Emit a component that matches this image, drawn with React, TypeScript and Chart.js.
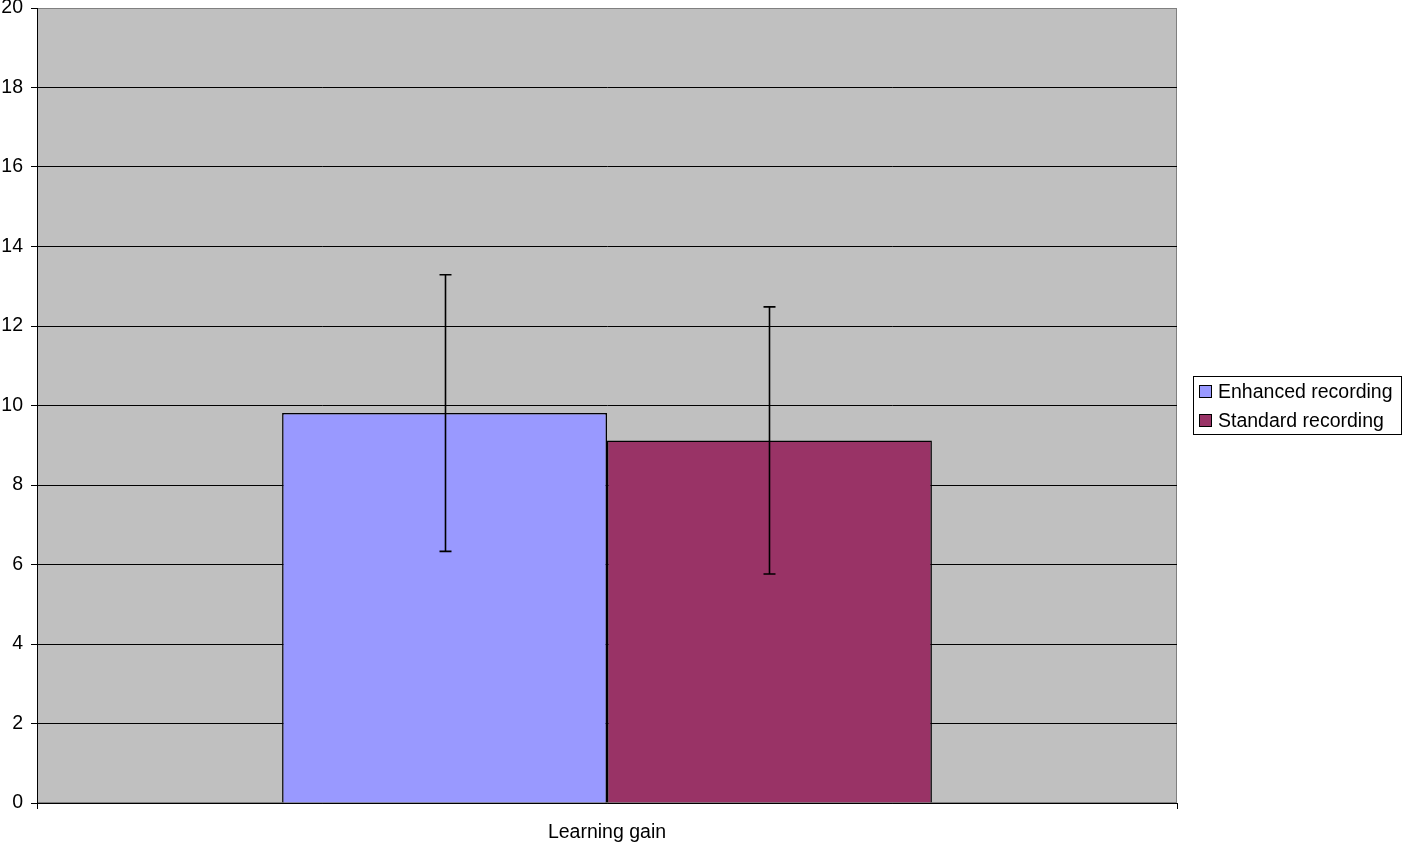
import React, { useEffect, useRef } from "react";
import { Chart, registerables } from "chart.js";

Chart.register(...registerables);

const categories = ["Learning gain"];
const seriesLabels = ["Enhanced recording", "Standard recording"];
const enhancedValues = [9.81];
const standardValues = [9.12];
const enhancedErrors = [3.48];
const standardErrors = [3.36];
const seriesColors = ["#9999FF", "#993366"];
const yMin = 0;
const yMax = 20;
const yStep = 2;

const FONT = "'Liberation Sans', Arial, sans-serif";

const errorsBySeries = [enhancedErrors, standardErrors];

const bgPlugin = {
  id: "plotBg",
  beforeDraw(chart: any) {
    const { ctx, chartArea } = chart;
    ctx.save();
    ctx.fillStyle = "#C0C0C0";
    ctx.fillRect(chartArea.left, chartArea.top, chartArea.right - chartArea.left, chartArea.bottom - chartArea.top);
    ctx.strokeStyle = "#808080";
    ctx.lineWidth = 1;
    ctx.strokeRect(chartArea.left + 0.5, chartArea.top + 0.5, chartArea.right - chartArea.left - 1, chartArea.bottom - chartArea.top - 1);
    ctx.restore();
  },
};

const errorBarPlugin = {
  id: "errorBars",
  afterDatasetsDraw(chart: any) {
    const { ctx } = chart;
    const yScale = chart.scales.y;
    ctx.save();
    ctx.strokeStyle = "#000";
    ctx.lineWidth = 1.6;
    chart.data.datasets.forEach((ds: any, i: number) => {
      const meta = chart.getDatasetMeta(i);
      meta.data.forEach((bar: any, j: number) => {
        const v = ds.data[j];
        const e = errorsBySeries[i][j];
        const x = Math.round(bar.x) + 0.5;
        const yTop = yScale.getPixelForValue(v + e);
        const yBot = yScale.getPixelForValue(v - e);
        const half = 6;
        ctx.beginPath();
        ctx.moveTo(x, yTop);
        ctx.lineTo(x, yBot);
        ctx.moveTo(x - half, yTop);
        ctx.lineTo(x + half, yTop);
        ctx.moveTo(x - half, yBot);
        ctx.lineTo(x + half, yBot);
        ctx.stroke();
      });
    });
    ctx.restore();
  },
};

const legendPlugin = {
  id: "boxLegend",
  afterDraw(chart: any) {
    const { ctx } = chart;
    const left = 1193.5;
    const top = 376.5;
    const w = 208;
    const h = 58;
    ctx.save();
    ctx.fillStyle = "#fff";
    ctx.fillRect(left, top, w, h);
    ctx.strokeStyle = "#000";
    ctx.lineWidth = 1;
    ctx.strokeRect(left, top, w, h);
    ctx.font = `19.5px ${FONT}`;
    ctx.textBaseline = "middle";
    ctx.textAlign = "left";
    chart.data.datasets.forEach((ds: any, i: number) => {
      const cy = 391.5 + i * 29;
      ctx.fillStyle = ds.backgroundColor;
      ctx.fillRect(1199.5, cy - 6, 12, 12);
      ctx.strokeStyle = "#000";
      ctx.strokeRect(1199.5, cy - 6, 12, 12);
      ctx.fillStyle = "#000";
      ctx.fillText(ds.label, 1218, cy + 1);
    });
    ctx.restore();
  },
};

export default function App() {
  const ref = useRef<HTMLCanvasElement | null>(null);
  useEffect(() => {
    if (!ref.current) return;
    const chart = new Chart(ref.current, {
      type: "bar",
      data: {
        labels: categories,
        datasets: [
          {
            label: seriesLabels[0],
            data: enhancedValues,
            backgroundColor: seriesColors[0],
            borderColor: "#000",
            borderWidth: 1.5,
          },
          {
            label: seriesLabels[1],
            data: standardValues,
            backgroundColor: seriesColors[1],
            borderColor: "#000",
            borderWidth: 1.5,
          },
        ],
      },
      options: {
        responsive: false,
        animation: false,
        devicePixelRatio: 1,
        layout: { padding: { top: 8, right: 229, left: 0, bottom: 0 } },
        datasets: { bar: { categoryPercentage: 0.57, barPercentage: 1 } },
        plugins: {
          legend: { display: false },
          tooltip: { enabled: false },
        },
        scales: {
          x: {
            offset: true,
            grid: {
              display: true,
              offset: true,
              drawOnChartArea: false,
              drawTicks: true,
              tickLength: 6,
              color: "#000",
            },
            border: { display: true, color: "#000", width: 1 },
            ticks: {
              color: "#000",
              font: { family: FONT, size: 19.5 },
              padding: 12,
            },
            afterFit(scale: any) {
              scale.height = 41;
              scale.paddingLeft = 0;
              scale.paddingRight = 0;
            },
          },
          y: {
            min: yMin,
            max: yMax,
            ticks: {
              stepSize: yStep,
              color: "#000",
              font: { family: FONT, size: 19.5 },
              padding: 8,
            },
            grid: {
              color: (c: any) => (c.tick && c.tick.value === yMax ? "#808080" : "#000"),
              tickColor: "#000",
              tickLength: 6,
              lineWidth: 1,
            },
            border: { display: true, color: "#000", width: 1 },
            afterFit(scale: any) {
              scale.width = 37;
              scale.paddingTop = 0;
              scale.paddingBottom = 0;
            },
          },
        },
      },
      plugins: [bgPlugin, errorBarPlugin, legendPlugin],
    } as any);
    return () => chart.destroy();
  }, []);
  return (
    <div style={{ position: "fixed", left: 0, top: 0, width: 1406, height: 844, background: "#fff" }}>
      <canvas ref={ref} width={1406} height={844} style={{ display: "block", width: 1406, height: 844 }} />
    </div>
  );
}
